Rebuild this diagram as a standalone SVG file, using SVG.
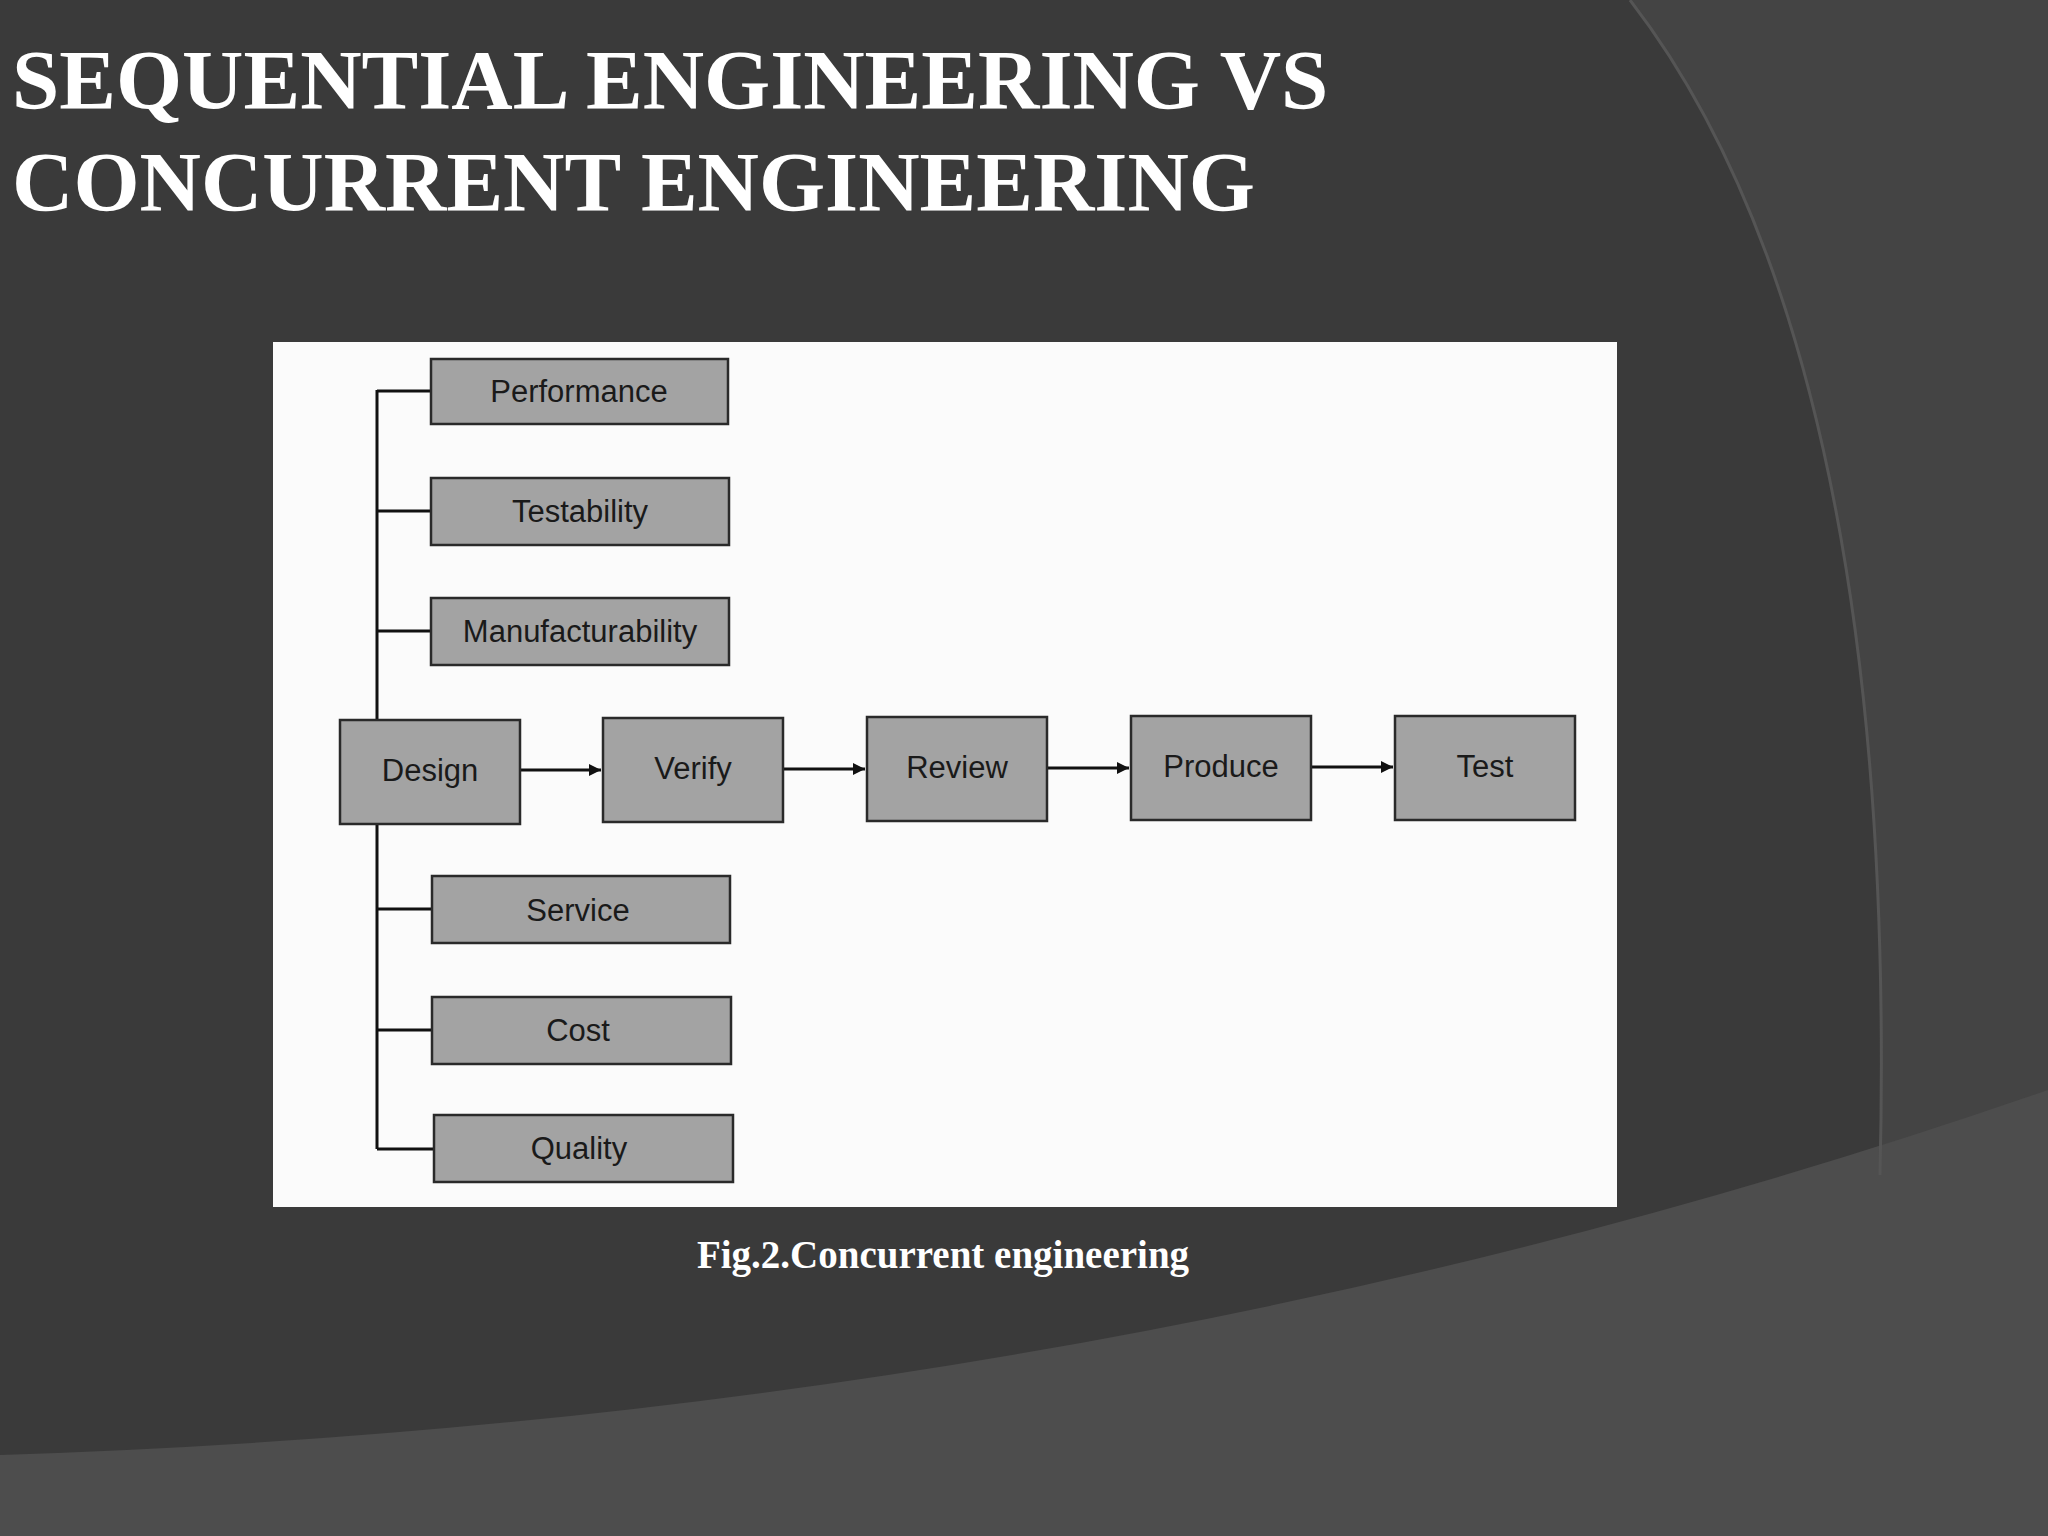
<svg xmlns="http://www.w3.org/2000/svg" width="2048" height="1536" viewBox="0 0 2048 1536">
<defs>
<style>
.box{fill:#a3a3a3;stroke:#2a2a2a;stroke-width:2.5}
.lbl{font-family:"Liberation Sans",Arial,sans-serif;font-size:31px;fill:#1a1a1a;text-anchor:middle;dominant-baseline:central}
.ln{stroke:#111;stroke-width:3;fill:none}
</style>
<marker id="ar" viewBox="0 0 10 10" refX="10" refY="5" markerWidth="22" markerHeight="12" orient="auto" markerUnits="userSpaceOnUse"><path d="M0,0L10,5L0,10z" fill="#111"/></marker>
</defs>
<rect width="2048" height="1536" fill="#3a3a3a"/>
<path d="M1630,0 Q1900,350 1880,1175 L2048,1120 L2048,0z" fill="#444"/>
<path d="M0,1455 Q1100,1420 2048,1090 L2048,1536 L0,1536z" fill="#4d4d4d"/>
<path d="M1630,0 Q1900,350 1880,1175" fill="none" stroke="#555" stroke-width="3"/>
<g font-family="Liberation Serif,'Times New Roman',serif" font-weight="bold" font-size="85" fill="#fff">
<text x="12" y="109">SEQUENTIAL ENGINEERING VS</text>
<text x="12" y="211">CONCURRENT ENGINEERING</text>
</g>
<rect x="273" y="342" width="1344" height="865" fill="#fbfbfb"/>
<g id="connectors">
<path class="ln" d="M377,390V1149"/>
<path class="ln" d="M377,391H431M377,511H431M377,631H431M377,909H432M377,1030H432M377,1149H434"/>
<path class="ln" d="M520,770H601" marker-end="url(#ar)"/>
<path class="ln" d="M783,769H865" marker-end="url(#ar)"/>
<path class="ln" d="M1047,768H1129" marker-end="url(#ar)"/>
<path class="ln" d="M1311,767H1393" marker-end="url(#ar)"/>
</g>
<g id="performance"><rect class="box" x="431" y="359" width="297" height="65"/><text class="lbl" x="579" y="391">Performance</text></g>
<g id="testability"><rect class="box" x="431" y="478" width="298" height="67"/><text class="lbl" x="580" y="511">Testability</text></g>
<g id="manufacturability"><rect class="box" x="431" y="598" width="298" height="67"/><text class="lbl" x="580" y="631">Manufacturability</text></g>
<g id="design"><rect class="box" x="340" y="720" width="180" height="104"/><text class="lbl" x="430" y="770">Design</text></g>
<g id="verify"><rect class="box" x="603" y="718" width="180" height="104"/><text class="lbl" x="693" y="768">Verify</text></g>
<g id="review"><rect class="box" x="867" y="717" width="180" height="104"/><text class="lbl" x="957" y="767">Review</text></g>
<g id="produce"><rect class="box" x="1131" y="716" width="180" height="104"/><text class="lbl" x="1221" y="766">Produce</text></g>
<g id="test"><rect class="box" x="1395" y="716" width="180" height="104"/><text class="lbl" x="1485" y="766">Test</text></g>
<g id="service"><rect class="box" x="432" y="876" width="298" height="67"/><text class="lbl" x="578" y="910">Service</text></g>
<g id="cost"><rect class="box" x="432" y="997" width="299" height="67"/><text class="lbl" x="578" y="1030">Cost</text></g>
<g id="quality"><rect class="box" x="434" y="1115" width="299" height="67"/><text class="lbl" x="579" y="1148">Quality</text></g>
<text x="943" y="1268" font-family="Liberation Serif,'Times New Roman',serif" font-weight="bold" font-size="39" fill="#fff" text-anchor="middle">Fig.2.Concurrent engineering</text>
</svg>
